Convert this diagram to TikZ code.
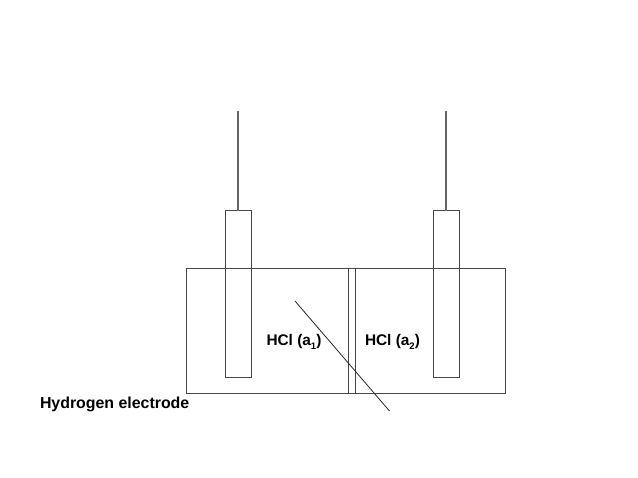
\documentclass[tikz,border=0pt]{standalone}
\usepackage{fontspec}
\setmainfont{Liberation Sans}
\newcommand{\subidx}[1]{\raisebox{-0.28em}{\fontsize{9.5}{10}\selectfont #1}}
\tikzset{
  x=1pt,y=-1pt,
  part/.style={draw=black!72,line width=1pt,fill=none,inner sep=0pt,outer sep=0pt},
  wire/.style={draw=black!60,line width=1.1pt},
  label/.style={inner sep=0pt,outer sep=0pt,anchor=base west,font=\fontsize{15.9}{18}\selectfont\bfseries},
  smalllabel/.style={label,font=\fontsize{15.4}{18}\selectfont\bfseries}
}
\begin{document}
\begin{tikzpicture}
\useasboundingbox (0,0) rectangle (638,478);
% vessel
\node[part,minimum width=319pt,minimum height=125pt] (vessel) at (345.5,331.5) {};
% membrane
\node[part,minimum width=6.5pt,minimum height=125pt] (membrane) at (352.2,331.5) {};
% tubes
\node[part,minimum width=26pt,minimum height=167pt] (tubeL) at (238,294.5) {};
\node[part,minimum width=26pt,minimum height=167pt] (tubeR) at (446,294.5) {};
% wires
\coordinate (wireLtop) at (238,111);
\coordinate (wireRtop) at (446,111);
\draw[wire] (wireLtop) -- (tubeL.north);
\draw[wire] (wireRtop) -- (tubeR.north);
% leader
\coordinate (leadA) at (295,301);
\coordinate (leadB) at (389.5,411);
\draw[black!85,line width=0.8pt] (leadA) -- (leadB);
% labels
\node[smalllabel] (hcla) at (266.5,345.5) {HCl (a\subidx{1})};
\node[smalllabel] (hclb) at (365,345.5) {HCl (a\subidx{2})};
\node[label] (hyd) at (40,408.5) {Hydrogen electrode};
\end{tikzpicture}
\end{document}
